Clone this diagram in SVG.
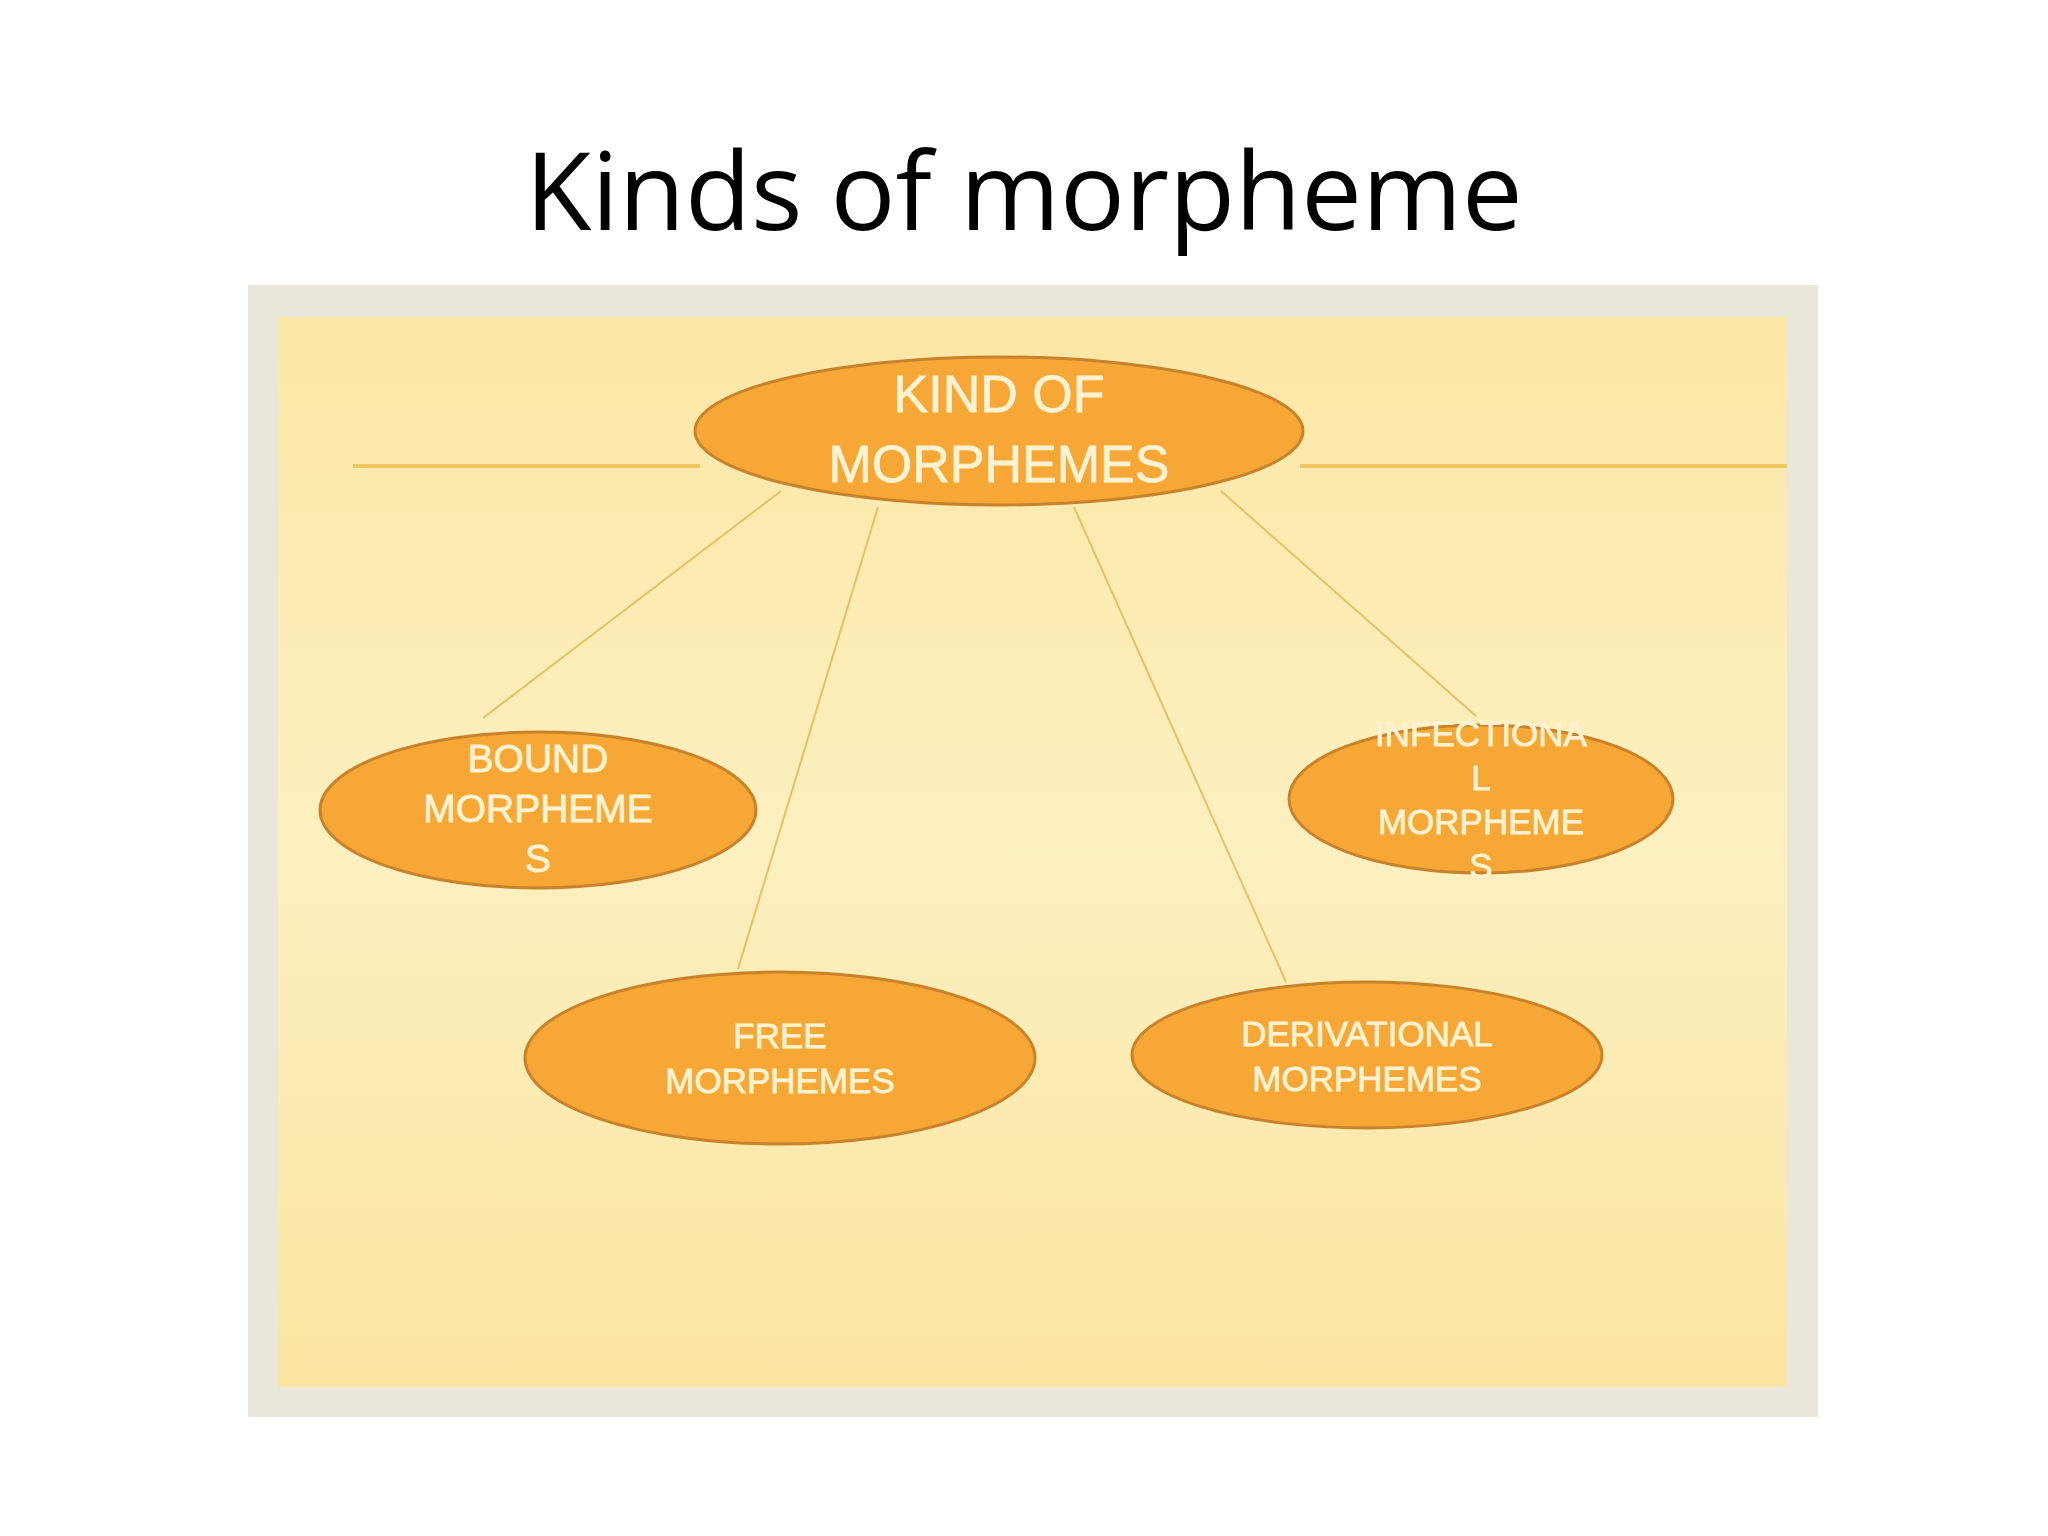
<svg xmlns="http://www.w3.org/2000/svg" width="2048" height="1536" viewBox="0 0 2048 1536">
<defs>
<style>
.n{fill:#f6a735;stroke:#c9822a;stroke-width:3}
.t{font-family:"Liberation Sans",Arial,sans-serif;fill:#fdf3d2;text-anchor:middle;stroke:#fdf3d2;stroke-width:0.8}
.c{stroke:#e8c060;stroke-width:2;fill:none}
.h{stroke:#f0c660;stroke-width:4;fill:none}
</style>
<linearGradient id="bg" x1="0" y1="0" x2="0" y2="1">
<stop offset="0" stop-color="#fde7a6"/><stop offset="0.5" stop-color="#fdf0c0"/><stop offset="1" stop-color="#fbe4a0"/>
</linearGradient>
</defs>
<rect width="2048" height="1536" fill="#fff"/>
<text x="1024" y="230" font-family="'Open Sans','Liberation Sans',sans-serif" font-size="108" text-anchor="middle" fill="#000">Kinds of morpheme</text>
<rect x="248" y="285" width="1570" height="1132" fill="#e9e6dc"/>
<rect x="278" y="317" width="1509" height="1070" fill="url(#bg)"/>
<g id="connectors">
<line class="h" x1="353" y1="466" x2="700" y2="466"/>
<line class="h" x1="1300" y1="466" x2="1787" y2="466"/>
<line class="c" x1="781" y1="491" x2="483" y2="718"/>
<line class="c" x1="878" y1="507" x2="738" y2="969"/>
<line class="c" x1="1074" y1="507" x2="1286" y2="982"/>
<line class="c" x1="1221" y1="491" x2="1476" y2="716"/>
</g>
<g id="root"><ellipse class="n" cx="999" cy="431" rx="304" ry="74"/>
<text class="t" x="999" y="412" font-size="52">KIND OF</text><text class="t" x="999" y="482" font-size="52">MORPHEMES</text></g>
<g id="bound"><ellipse class="n" cx="538" cy="810" rx="218" ry="78"/>
<text class="t" font-size="39" x="538" y="772">BOUND</text><text class="t" font-size="39" x="538" y="822">MORPHEME</text><text class="t" font-size="39" x="538" y="872">S</text></g>
<g id="free"><ellipse class="n" cx="780" cy="1058" rx="255" ry="86"/>
<text class="t" font-size="35" x="780" y="1048">FREE</text><text class="t" font-size="35" x="780" y="1093">MORPHEMES</text></g>
<g id="deriv"><ellipse class="n" cx="1367" cy="1055" rx="235" ry="73"/>
<text class="t" font-size="35" x="1367" y="1046">DERIVATIONAL</text><text class="t" font-size="35" x="1367" y="1091">MORPHEMES</text></g>
<g id="infl"><ellipse class="n" cx="1481" cy="799" rx="192" ry="74"/>
<text class="t" font-size="35" x="1481" y="746">INFECTIONA</text><text class="t" font-size="35" x="1481" y="790">L</text><text class="t" font-size="35" x="1481" y="834">MORPHEME</text><text class="t" font-size="35" x="1481" y="878">S</text></g>
</svg>
